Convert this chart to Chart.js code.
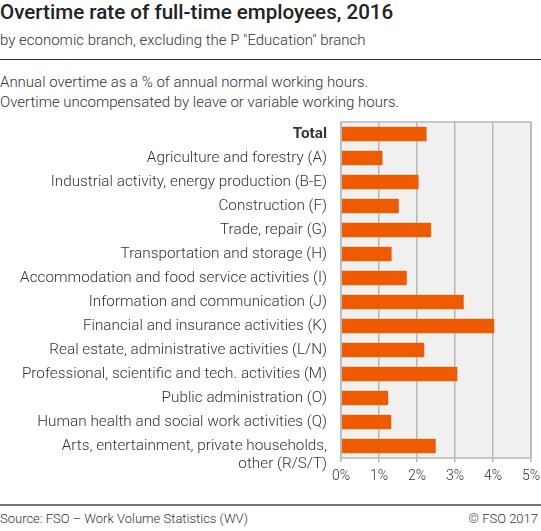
<!DOCTYPE html>
<html>
<head>
<meta charset="utf-8">
<script src="https://cdn.jsdelivr.net/npm/chart.js@4"></script>
<style>
  body { margin: 0; width: 541px; height: 531px; background: #fff; font-family: Roboto, "Noto Sans", sans-serif; position: relative; overflow: hidden; }
  .abs { position: absolute; white-space: nowrap; }
  #title { left: 0; top: 0; font-size: 20.6px; font-weight: 500; color: #222; }
  #subtitle { left: 0; top: 31px; font-size: 15px; font-weight: 300; color: #333; }
  #rule { left: 0; top: 59px; width: 541px; height: 1px; background: #333; }
  #notes { left: 0; top: 72px; font-size: 15px; font-weight: 300; color: #333; line-height: 20px; }
  #chartBox { left: 0; top: 110px; width: 541px; height: 380px; }
  #footRule { left: 0; top: 504px; width: 541px; height: 2px; background: #777; }
  #source { left: 0; top: 511px; font-size: 13px; font-weight: 300; color: #333; }
  #copy { right: 3px; top: 511px; font-size: 13px; font-weight: 300; color: #333; }
</style>
</head>
<body>
<div class="abs" id="title">Overtime rate of full-time employees, 2016</div>
<div class="abs" id="subtitle">by economic branch, excluding the P "Education" branch</div>
<div class="abs" id="rule"></div>
<div class="abs" id="notes">Annual overtime as a % of annual normal working hours.<br>Overtime uncompensated by leave or variable working hours.</div>
<div class="abs" id="chartBox"><canvas id="chart" width="541" height="380"></canvas></div>
<div class="abs" id="footRule"></div>
<div class="abs" id="source">Source: FSO – Work Volume Statistics (WV)</div>
<div class="abs" id="copy">© FSO 2017</div>

<script>
// Branch names (the last one wraps: empty first line keeps line one on the bar)
const branches = [
    'Total',
    'Agriculture and forestry (A)',
    'Industrial activity, energy production (B-E)',
    'Construction (F)',
    'Trade, repair (G)',
    'Transportation and storage (H)',
    'Accommodation and food service activities (I)',
    'Information and communication (J)',
    'Financial and insurance activities (K)',
    'Real estate, administrative activities (L/N)',
    'Professional, scientific and tech. activities (M)',
    'Public administration (O)',
    'Human health and social work activities (Q)',
    ['', 'Arts, entertainment, private households,', 'other (R/S/T)']
];

// Overtime rate in % of normal working hours
const overtimeRate = [2.26, 1.10, 2.05, 1.53, 2.38, 1.34, 1.74, 3.24, 4.04, 2.20, 3.07, 1.25, 1.33, 2.50];

const xTicks = [0, 1, 2, 3, 4, 5];

// Grey plot background and frame
const plotFrame = {
    id: 'plotFrame',
    beforeDraw(chart) {
        const { ctx, chartArea: a } = chart;
        ctx.save();
        ctx.fillStyle = '#f0f0f0';
        ctx.fillRect(a.left, a.top, a.right - a.left, a.bottom - a.top);
        ctx.restore();
    },
    afterDatasetsDraw(chart) {
        const { ctx, chartArea: a } = chart;
        ctx.save();
        ctx.strokeStyle = '#b8b8b8';
        ctx.lineWidth = 1.5;
        ctx.strokeRect(a.left, a.top, a.right - a.left, a.bottom - a.top);
        ctx.restore();
    }
};

new Chart(document.getElementById('chart'), {
    type: 'bar',
    data: {
        labels: branches,
        datasets: [{
            data: overtimeRate,
            backgroundColor: '#ee5a00',
            borderColor: '#f27c3c',
            borderWidth: 0.5,
            categoryPercentage: 1,
            barPercentage: 0.625
        }]
    },
    options: {
        indexAxis: 'y',
        responsive: false,
        animation: false,
        layout: { padding: { top: 12, right: 10, left: 0, bottom: 0 } },
        plugins: { legend: { display: false }, tooltip: { enabled: false } },
        scales: {
            x: {
                min: 0,
                max: 5,
                afterBuildTicks(scale) { scale.ticks = xTicks.map(v => ({ value: v })); },
                afterFit(scale) {
                    scale.height = 32;
                    scale.paddingLeft = 0;
                    scale.paddingRight = 0;
                },
                grid: { color: '#b8b8b8', lineWidth: 1.5, drawTicks: true, tickLength: 4, tickColor: '#b8b8b8' },
                border: { display: false },
                ticks: {
                    padding: 6,
                    color: '#333',
                    font: { family: 'Roboto', size: 14, weight: 300 },
                    callback: v => v + '%'
                }
            },
            y: {
                afterFit(scale) {
                    scale.width = 341;
                    scale.paddingTop = 0;
                    scale.paddingBottom = 0;
                },
                grid: { display: false, drawTicks: false },
                border: { display: false },
                ticks: {
                    autoSkip: false,
                    padding: 14,
                    color: '#333',
                    font: ctx => ({ family: 'Roboto', size: 15.3, weight: ctx.index === 0 ? 'bold' : 300, lineHeight: '18px' })
                }
            }
        }
    },
    plugins: [plotFrame]
});
</script>
</body>
</html>
